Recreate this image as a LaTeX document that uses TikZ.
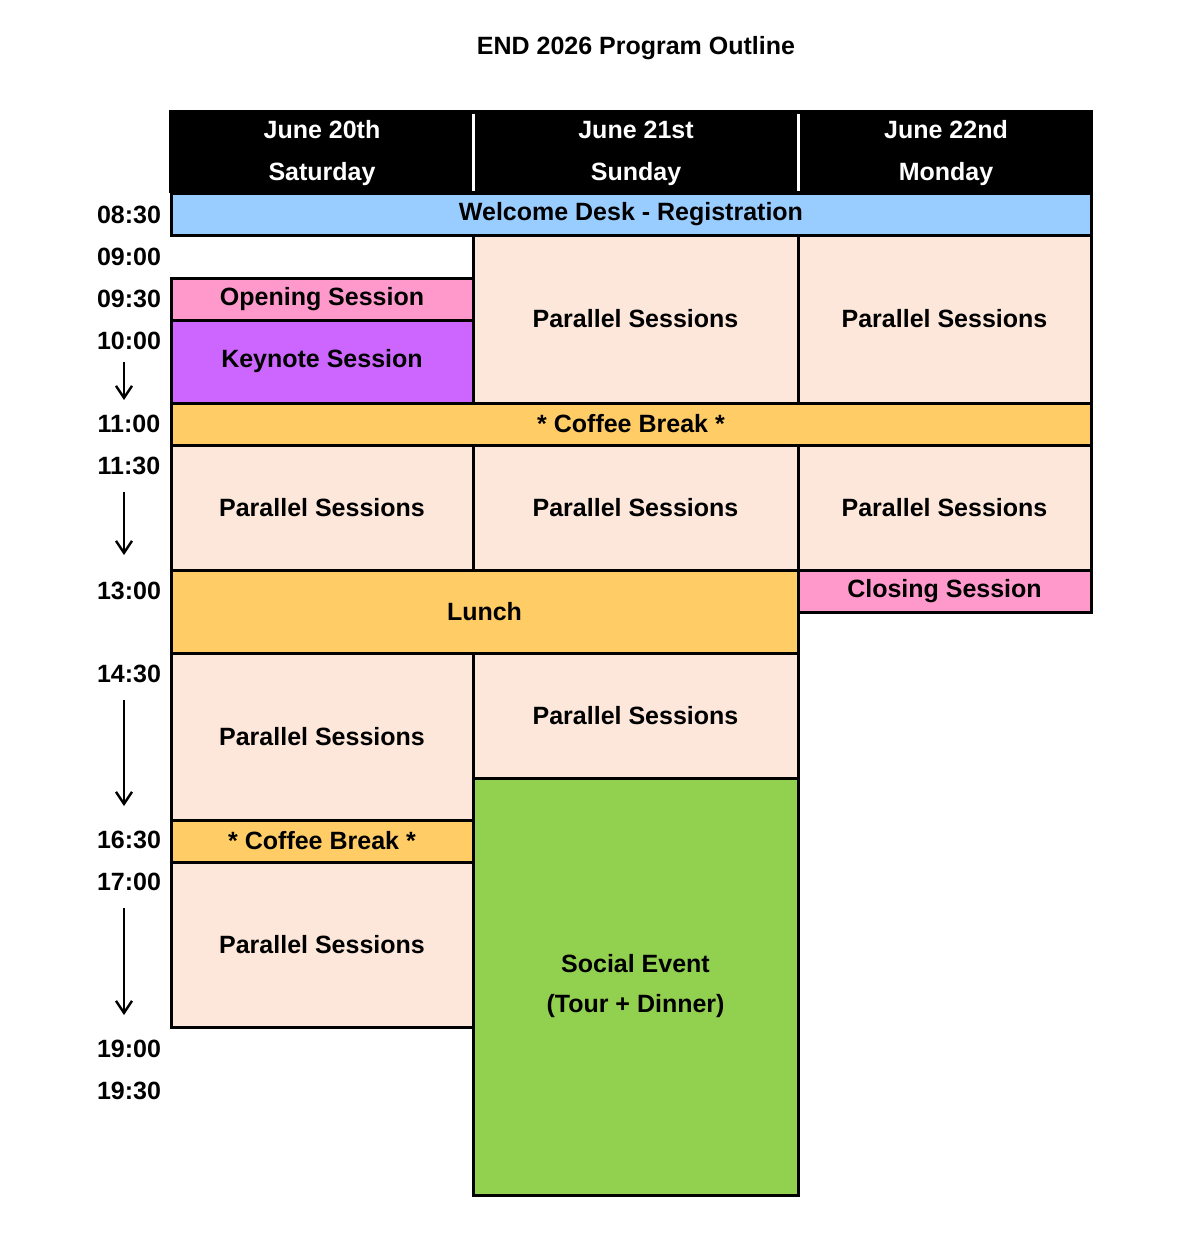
\documentclass[tikz,border=0pt]{standalone}
\usepackage{fontspec}
\usetikzlibrary{arrows.meta}
\setmainfont{Liberation Sans}
\definecolor{cblue}{HTML}{99CCFF}
\definecolor{cpink}{HTML}{FF99CC}
\definecolor{cpurple}{HTML}{CC66FF}
\definecolor{corange}{HTML}{FFCC66}
\definecolor{cpeach}{HTML}{FCE7DA}
\definecolor{cgreen}{HTML}{92D050}
\newcommand\cell[7]{\draw[cellst, fill=#6] (#2,#3) rectangle (#4,#5) node[midway, align=center, txt] (#1) {#7};}
\begin{document}
\begin{tikzpicture}[x=0.5pt,y=-0.5pt,
  cellst/.style={draw=black, line width=1.5pt},
  txt/.style={font=\bfseries\fontsize{12.5}{20}\selectfont, text=black},
  htxt/.style={font=\bfseries\fontsize{12.5}{21}\selectfont, text=white, align=center},
  tm/.style={font=\bfseries\fontsize{12.5}{15}\selectfont},
  arr/.style={-{Straight Barb[length=6pt,width=8pt]}, line width=1.2pt}]
\useasboundingbox (0,0) rectangle (1192,1239);
\node[tm] (title) at (636,48) {END 2026 Program Outline};
% header
\fill[black] (169,110) rectangle (1093,193);
\draw[white, line width=1.5pt] (473,114) -- (473,191) (798,114) -- (798,191);
\node[htxt] (h1) at (322,153) {June 20th\\Saturday};
\node[htxt] (h2) at (636,153) {June 21st\\Sunday};
\node[htxt] (h3) at (946,153) {June 22nd\\Monday};
% cells
\cell{wel}{171}{193}{1091}{235}{cblue}{Welcome Desk - Registration}
\cell{open}{171}{278}{473}{320}{cpink}{Opening Session}
\cell{key}{171}{320}{473}{403}{cpurple}{Keynote Session}
\cell{p21a}{473}{235}{798}{403}{cpeach}{Parallel Sessions}
\cell{p22a}{798}{235}{1091}{403}{cpeach}{Parallel Sessions}
\cell{cof1}{171}{403}{1091}{445}{corange}{* Coffee Break *}
\cell{p20b}{171}{445}{473}{570}{cpeach}{Parallel Sessions}
\cell{p21b}{473}{445}{798}{570}{cpeach}{Parallel Sessions}
\cell{p22b}{798}{445}{1091}{570}{cpeach}{Parallel Sessions}
\cell{lunch}{171}{570}{798}{653}{corange}{Lunch}
\cell{close}{798}{570}{1091}{612}{cpink}{Closing Session}
\cell{p20c}{171}{653}{473}{820}{cpeach}{Parallel Sessions}
\cell{p21c}{473}{653}{798}{778}{cpeach}{Parallel Sessions}
\cell{cof2}{171}{820}{473}{862}{corange}{* Coffee Break *}
\cell{p20d}{171}{862}{473}{1027}{cpeach}{Parallel Sessions}
\cell{soc}{473}{778}{798}{1195}{cgreen}{Social Event\\(Tour + Dinner)}
% times
\foreach \t/\y/\n in {08:30/215/a,09:00/257/b,09:30/299/c,10:00/341/d,11:00/424/e,11:30/466/f,13:00/591/g,14:30/674/h,16:30/840/i,17:00/882/j,19:00/1049/k,19:30/1091/l}
  \node[tm] (t\n) at (129,\y) {\t};
\coordinate (e1) at (124,400);
\coordinate (e2) at (124,555);
\coordinate (e3) at (124,806);
\coordinate (e4) at (124,1015);
\draw[arr] (124,362) -- (e1);
\draw[arr] (124,492) -- (e2);
\draw[arr] (124,700) -- (e3);
\draw[arr] (124,908) -- (e4);
\end{tikzpicture}
\end{document}
